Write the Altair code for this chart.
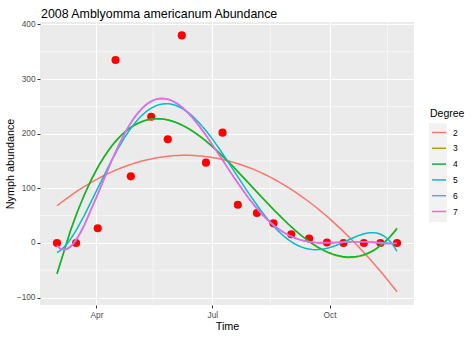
import altair as alt
import pandas as pd

# ---- data ----
dates = ["2008-03-01", "2008-03-16", "2008-04-02", "2008-04-16", "2008-04-28",
         "2008-05-14", "2008-05-27", "2008-06-07", "2008-06-26", "2008-07-09",
         "2008-07-21", "2008-08-05", "2008-08-18", "2008-09-01", "2008-09-15",
         "2008-09-29", "2008-10-12", "2008-10-28", "2008-11-10", "2008-11-23"]
nymphs = [0, 0, 27, 335, 122, 231, 190, 380, 147, 202,
          70, 55, 36, 16, 8, 1, 0, 0, 0, 0]
degrees = ["2", "3", "4", "5", "6", "7"]
degree_colors = ["#F8766D", "#B79F00", "#00BA38", "#00BFC4", "#619CFF", "#F564E3"]
x_tick_dates = ["2008-04-01", "2008-07-01", "2008-10-01"]
x_tick_labels = ["Apr", "Jul", "Oct"]
x_minor_dates = ["2008-05-16", "2008-08-16", "2008-11-16"]
y_ticks = [-100, 0, 100, 200, 300, 400]
y_minor = [-50, 50, 150, 250, 350]

FONT = "Liberation Sans"

doy = pd.to_datetime(pd.Series(dates)).dt.dayofyear
df = pd.DataFrame({"doy": doy, "t": doy / 100.0, "n": nymphs})

tick_doy = [int(v) for v in pd.to_datetime(pd.Series(x_tick_dates)).dt.dayofyear]
minor_doy = [float(d) - 0.5 for d in pd.to_datetime(pd.Series(x_minor_dates)).dt.dayofyear]

label_expr = "".join(
    f"datum.value == {d} ? '{l}' : " for d, l in zip(tick_doy, x_tick_labels)
) + "''"

span = float(df["doy"].max() - df["doy"].min())
x_dom = [float(df["doy"].min()) - 0.05 * span, float(df["doy"].max()) + 0.05 * span]
y_dom = [-113.5, 404.5]

xscale = alt.Scale(domain=x_dom, nice=False, zero=False)
yscale = alt.Scale(domain=y_dom, nice=False, zero=False)

xaxis = alt.Axis(values=tick_doy, labelExpr=label_expr, title="Time",
                 titlePadding=2)
yaxis = alt.Axis(values=y_ticks, title="Nymph abundance", titlePadding=1)

minor_x = alt.Chart(pd.DataFrame({"m": minor_doy})).mark_rule(
    color="white", strokeWidth=0.55).encode(
    x=alt.X("m:Q", scale=xscale, axis=xaxis))
minor_y = alt.Chart(pd.DataFrame({"m": y_minor})).mark_rule(
    color="white", strokeWidth=0.55).encode(
    y=alt.Y("m:Q", scale=yscale, axis=yaxis))

# light grey backdrop behind the legend keys (ggplot legend.key)
key_bg = alt.Chart(pd.DataFrame({"k": [0]})).mark_rect(color="#F2F2F2").encode(
    x=alt.value(389), x2=alt.value(407), y=alt.value(101), y2=alt.value(200))

points = alt.Chart(df).mark_circle(size=66, color="#FF0000", opacity=1).encode(
    x=alt.X("doy:Q", scale=xscale, axis=xaxis),
    y=alt.Y("n:Q", scale=yscale, axis=yaxis),
)

color = alt.Color(
    "Degree:N",
    scale=alt.Scale(domain=degrees, range=degree_colors),
    legend=alt.Legend(
        title="Degree", orient="none", legendX=390, legendY=87,
        symbolType="stroke", symbolSize=196, symbolStrokeWidth=1.5,
        symbolOffset=1,
        rowPadding=2.8, labelOffset=6, titlePadding=5,
        labelFontSize=8.5, titleFontSize=10.5, labelFont=FONT, titleFont=FONT,
        titleFontWeight="normal", labelColor="#000000", titleColor="#000000",
    ),
)

fits = []
for d in degrees:
    fits.append(
        alt.Chart(df)
        .transform_regression("t", "n", method="poly", order=int(d))
        .transform_calculate(doy="datum.t * 100", Degree=f"'{d}'")
        .mark_line(strokeWidth=1.5)
        .encode(
            x=alt.X("doy:Q", scale=xscale, axis=xaxis),
            y=alt.Y("n:Q", scale=yscale, axis=yaxis),
            color=color,
        )
    )

chart = alt.layer(key_bg, minor_x, minor_y, points, *fits).properties(
    width=374, height=283,
    background="white",
    autosize=alt.AutoSizeParams(type="none"),
    padding={"left": 40, "top": 22, "right": 60, "bottom": 33},
    title=alt.TitleParams("2008 Amblyomma americanum Abundance", anchor="start",
                          frame="group", fontSize=12.4, font=FONT,
                          fontWeight="normal", baseline="alphabetic",
                          offset=5, dx=1, dy=16, color="#000000"),
).configure_view(fill="#EBEBEB", strokeWidth=0).configure_axis(
    domain=False, grid=True, gridColor="white", gridWidth=1.1,
    tickColor="#333333", tickSize=3, tickWidth=1,
    labelColor="#4D4D4D", labelFontSize=8.3, labelFont=FONT, labelPadding=2,
    titleFont=FONT, titleFontSize=10.8, titleFontWeight="normal", titleColor="#000000",
)

chart.save("out.html", embed_options={"renderer": "svg", "actions": False})
